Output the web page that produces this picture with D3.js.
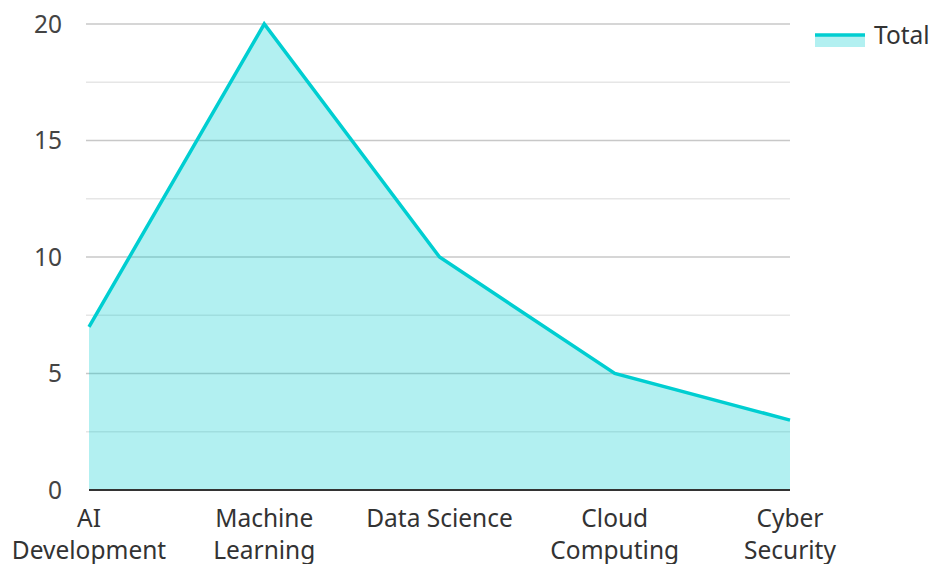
<!DOCTYPE html>
<html>
<head>
<meta charset="utf-8">
<script src="https://cdn.jsdelivr.net/npm/d3@7"></script>
<style>
  body { margin: 0; background: #fff; }
  text { font-family: "Noto Sans", "Open Sans", sans-serif; }
</style>
</head>
<body>
<svg id="canvas"></svg>
<script>
let categories = [['AI', 'Development'], ['Machine', 'Learning'], ['Data Science'], ['Cloud', 'Computing'], ['Cyber', 'Security']];
let values = [7, 20, 10, 5, 3];
let majorTicks = [0, 5, 10, 15, 20];
let minorTicks = [2.5, 7.5, 12.5, 17.5];
let seriesName = 'Total';

let width = 932;
let height = 564;
let plotLeft = 89;
let plotRight = 790;
let plotTop = 24;
let plotBottom = 490;

let lineColor = '#00ced1';
let fontSize = 24.5;

let svg = d3.select('#canvas')
	.attr('width', width)
	.attr('height', height);

let xScale = d3.scalePoint()
	.domain(d3.range(values.length))
	.range([plotLeft, plotRight]);

let yScale = d3.scaleLinear()
	.domain([0, 20])
	.range([plotBottom, plotTop]);

// grid
svg.append('g')
	.selectAll('line')
	.data(minorTicks)
	.enter()
	.append('line')
	.attr('x1', 86)
	.attr('x2', plotRight)
	.attr('y1', d => yScale(d))
	.attr('y2', d => yScale(d))
	.attr('stroke', '#e6e6e6')
	.attr('stroke-width', 1.5);

svg.append('g')
	.selectAll('line')
	.data(majorTicks.filter(d => d > 0))
	.enter()
	.append('line')
	.attr('x1', 86)
	.attr('x2', plotRight)
	.attr('y1', d => yScale(d))
	.attr('y2', d => yScale(d))
	.attr('stroke', '#c8c8c8')
	.attr('stroke-width', 1.5);

// area + line
let area = d3.area()
	.x((d, i) => xScale(i))
	.y0(yScale(0))
	.y1(d => yScale(d));

let line = d3.line()
	.x((d, i) => xScale(i))
	.y(d => yScale(d));

svg.append('path')
	.datum(values)
	.attr('d', area)
	.attr('fill', lineColor)
	.attr('fill-opacity', 0.3);

svg.append('path')
	.datum(values)
	.attr('d', line)
	.attr('fill', 'none')
	.attr('stroke', lineColor)
	.attr('stroke-width', 3.5);

// baseline
svg.append('line')
	.attr('x1', plotLeft)
	.attr('x2', plotRight)
	.attr('y1', yScale(0))
	.attr('y2', yScale(0))
	.attr('stroke', '#333')
	.attr('stroke-width', 2);

// y labels
svg.append('g')
	.selectAll('text')
	.data(majorTicks)
	.enter()
	.append('text')
	.attr('x', 62)
	.attr('y', d => yScale(d))
	.attr('dy', '0.35em')
	.attr('text-anchor', 'end')
	.attr('font-size', fontSize)
	.attr('fill', '#444')
	.text(d => d);

// x labels
let xl = svg.append('g')
	.selectAll('text')
	.data(categories)
	.enter()
	.append('text')
	.attr('x', (d, i) => xScale(i))
	.attr('y', 527)
	.attr('text-anchor', 'middle')
	.attr('font-size', fontSize)
	.attr('fill', '#333');

xl.selectAll('tspan')
	.data(d => d)
	.enter()
	.append('tspan')
	.attr('x', function () { return d3.select(this.parentNode).attr('x') })
	.attr('dy', (d, i) => i === 0 ? 0 : 32)
	.text(d => d);

// legend
let legend = svg.append('g').attr('id', 'legend');
legend.append('rect')
	.attr('x', 815)
	.attr('y', 34)
	.attr('width', 50)
	.attr('height', 13)
	.attr('fill', lineColor)
	.attr('fill-opacity', 0.3);
legend.append('line')
	.attr('x1', 815)
	.attr('x2', 865)
	.attr('y1', 35)
	.attr('y2', 35)
	.attr('stroke', lineColor)
	.attr('stroke-width', 3.5);
legend.append('text')
	.attr('x', 874)
	.attr('y', 35)
	.attr('dy', '0.35em')
	.attr('font-size', fontSize)
	.attr('fill', '#333')
	.text(seriesName);
</script>
</body>
</html>
